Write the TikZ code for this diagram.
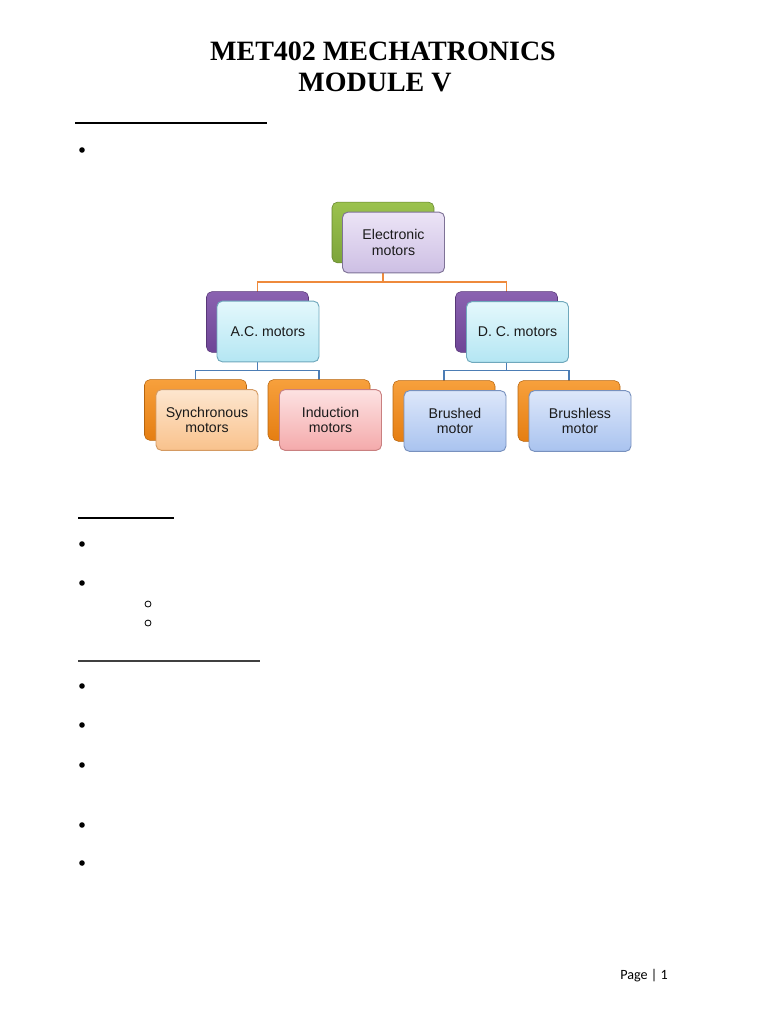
\documentclass[tikz,border=0pt]{standalone}
\usepackage{fontspec}
\setmainfont{Liberation Serif}
\newfontfamily\boxfont{Liberation Sans}
\newfontfamily\footfont{Carlito}
\usetikzlibrary{backgrounds}
\definecolor{grnA}{HTML}{9BC24E}
\definecolor{grnB}{HTML}{7DA43A}
\definecolor{purA}{HTML}{8A62B0}
\definecolor{purB}{HTML}{6E4596}
\definecolor{orgA}{HTML}{F7A03C}
\definecolor{orgB}{HTML}{E57E12}
\definecolor{lavA}{HTML}{ECE4F6}
\definecolor{lavB}{HTML}{CDBFE4}
\definecolor{lavD}{HTML}{7E7296}
\definecolor{cyaA}{HTML}{E4F8FC}
\definecolor{cyaB}{HTML}{B4E6F3}
\definecolor{cyaD}{HTML}{6FA8BC}
\definecolor{pchA}{HTML}{FDE6CF}
\definecolor{pchB}{HTML}{F9C28C}
\definecolor{pchD}{HTML}{D49A62}
\definecolor{pnkA}{HTML}{FDE2E2}
\definecolor{pnkB}{HTML}{F4AAAB}
\definecolor{pnkD}{HTML}{C98080}
\definecolor{bluA}{HTML}{DDE7FA}
\definecolor{bluB}{HTML}{A9C3EF}
\definecolor{bluD}{HTML}{7891BE}
\definecolor{lnOrg}{HTML}{EE8A3C}
\definecolor{lnBlu}{HTML}{4C7DB5}
\definecolor{txt}{HTML}{1A1A1A}
\tikzset{
  boxbase/.style={rectangle, rounded corners=4pt, minimum width=76.5pt, minimum height=45.5pt, inner sep=0pt},
  backbox/.style={boxbase, draw=#1B!80!black, line width=0.4pt, top color=#1A, bottom color=#1B},
  frontbox/.style={boxbase, draw=#1D, line width=0.7pt, top color=#1A, bottom color=#1B,
     align=center, text=txt, font=\boxfont\fontsize{10.6pt}{11.4pt}\selectfont},
  conorg/.style={draw=lnOrg, line width=1.35pt},
  conblu/.style={draw=lnBlu, line width=1.35pt},
  bul/.style={circle, fill=black, inner sep=0pt, minimum size=4.2pt},
  obul/.style={circle, draw=black, line width=0.6pt, inner sep=0pt, minimum size=4.5pt},
  uline/.style={line width=1.5pt},
  ttl/.style={font=\bfseries\fontsize{21pt}{24pt}\selectfont, inner sep=0pt, anchor=base}
}
\begin{document}
\begin{tikzpicture}[x=0.75pt,y=-0.75pt]
\useasboundingbox (0,0) rectangle (768,1024);
% title
\node[ttl] (t1) at (383,61) {MET402 MECHATRONICS};
\node[ttl] (t2) at (375,92) {MODULE V};
% underlines and bullets
\coordinate (u1a) at (75,123); \coordinate (u1b) at (267,123);
\draw[uline] (u1a) -- (u1b);
\node[bul] (b1) at (82,150) {};
% diagram boxes
\node[backbox=grn] (eb) at (383,232.5) {};
\node[frontbox=lav] (ef) at (393.5,242.5) {Electronic\\motors};
\node[backbox=pur] (ab) at (257.5,322) {};
\node[frontbox=cya] (af) at (268,331.5) {A.C. motors};
\node[backbox=pur] (db) at (506.5,322) {};
\node[frontbox=cya] (df) at (517.5,332) {D. C. motors};
\node[backbox=org] (sb) at (195.5,410) {};
\node[frontbox=pch] (sf) at (207,420) {Synchronous\\motors};
\node[backbox=org] (ib) at (319,410) {};
\node[frontbox=pnk] (iff) at (330.5,420) {Induction\\motors};
\node[backbox=org] (bb) at (444,411) {};
\node[frontbox=blu] (bf) at (455,421) {Brushed\\motor};
\node[backbox=org] (lb) at (569,411) {};
\node[frontbox=blu] (lf) at (580,421) {Brushless\\motor};
\begin{pgfonlayer}{background}
\draw[conorg] (eb.center) -- (eb.center |- 0,282) -| (ab.center);
\draw[conorg] (eb.center |- 0,282) -| (db.center);
\draw[conblu] (ab.center) -- (ab.center |- 0,370.5) -| (sb.center);
\draw[conblu] (ab.center |- 0,370.5) -| (ib.center);
\draw[conblu] (db.center) -- (db.center |- 0,370.5) -| (bb.center);
\draw[conblu] (db.center |- 0,370.5) -| (lb.center);
\end{pgfonlayer}
% section 2
\coordinate (u2a) at (78,518); \coordinate (u2b) at (174,518);
\draw[uline] (u2a) -- (u2b);
\node[bul] (b2) at (82,544) {};
\node[bul] (b3) at (82,583) {};
\node[obul] (c1) at (148,604) {};
\node[obul] (c2) at (148,623) {};
% section 3
\coordinate (u3a) at (78,661); \coordinate (u3b) at (260,661);
\draw[uline, draw=black!75] (u3a) -- (u3b);
\node[bul] (b4) at (82,686) {};
\node[bul] (b5) at (82,725) {};
\node[bul] (b6) at (82,765) {};
\node[bul] (b7) at (82,825) {};
\node[bul] (b8) at (82,863) {};
% footer
\node[font=\footfont\fontsize{10.6pt}{12pt}\selectfont, anchor=base east, inner sep=0pt] (pg) at (668,979) {Page | 1};
\end{tikzpicture}
\end{document}
